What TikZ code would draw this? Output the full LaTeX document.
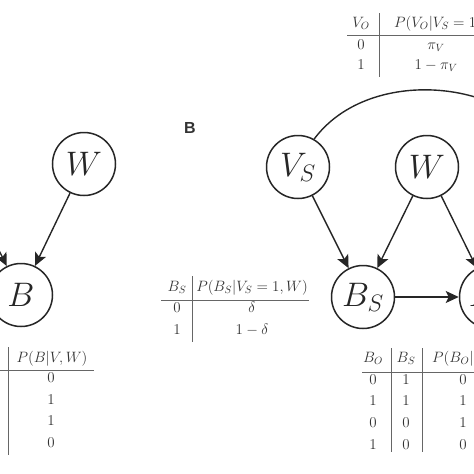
\documentclass[tikz,border=0pt]{standalone}
\usepackage{fix-cm}
\usepackage{fontspec}
\newfontfamily\panelfont{Liberation Sans}
\usetikzlibrary{arrows.meta}

\begin{document}
\begin{tikzpicture}[x=1pt, y=-1pt]
  \tikzset{
    var/.style={circle, draw=black!85, line width=1.5pt, minimum size=63pt, inner sep=0pt,
      text=black!85, font=\fontsize{34}{40}\selectfont},
    dep/.style={-{Stealth[length=13pt, width=12pt, inset=3pt]}, line width=1.4pt, black!85},
    cell/.style={anchor=mid, inner sep=0pt, text=black!80, font=\fontsize{15}{18}\selectfont},
    rule/.style={black!60, line width=0.9pt},
  }
  \useasboundingbox (0,0) rectangle (474,474);
  \clip (0,0) rectangle (474,474);

  % Panel A (cut off at the left)
  \coordinate (V) at (-42,167);
  \node[var] (WA) at (84,164) {$W$};
  \node[var] (BA) at (21,295) {$B$};
  \draw[dep] (V) -- (BA);
  \draw[dep] (WA) -- (BA);

  % table of B
  \node[cell] (pBh) at (52,360) {$P(B|V,W)$};
  \foreach \val [count=\i] in {0,1,1,0}
    \node[cell] (pB-\i) at (51,{358.5+21.7*\i}) {$\val$};
  \draw[rule] (8,347) -- (8,455);
  \draw[rule] (0,370) -- (94,370);

  % Panel B
  \node[font=\panelfont\fontsize{16}{18}\bfseries\selectfont, text=black!80] (lblB) at (190,128) {B};
  \node[var] (VS) at (298,167) {$V_S$};
  \node[var] (WB) at (427,167) {$W$};
  \node[var] (BS) at (363,297) {$B_S$};
  \node[var] (BO) at (491,297) {$B_O$};
  \coordinate (VO) at (556,167);
  \draw[dep] (VS) to[bend left=60] (VO);
  \draw[dep] (VS) -- (BS);
  \draw[dep] (WB) -- (BS);
  \draw[dep] (WB) -- (BO);
  \draw[dep] (BS) -- (BO);

  % table of V_O
  \node[cell] (voh) at (361,25) {$V_O$};
  \node[cell, anchor=mid west] (pvoh) at (394,25) {$P(V_O|V_S=1)$};
  \node[cell] (vo-1) at (361,47) {$0$};
  \node[cell] (vo-2) at (361,67) {$1$};
  \node[cell] (pvo-1) at (436,47) {$\pi_V$};
  \node[cell] (pvo-2) at (436,67) {$1-\pi_V$};
  \draw[rule] (379,13) -- (379,77);
  \draw[rule] (347,35) -- (480,35);

  % table of B_S
  \node[cell] (bsh) at (177,289) {$B_S$};
  \node[cell] (pbsh) at (252,289) {$P(B_S|V_S=1,W)$};
  \node[cell] (bs-1) at (177,310) {$0$};
  \node[cell] (bs-2) at (177,332) {$1$};
  \node[cell] (pbs-1) at (252,310) {$\delta$};
  \node[cell] (pbs-2) at (252,332) {$1-\delta$};
  \draw[rule] (192,276) -- (192,342);
  \draw[rule] (161,300) -- (309,300);

  % table of B_O
  \node[cell] (boh) at (373,360) {$B_O$};
  \node[cell] (bsh2) at (406,360) {$B_S$};
  \node[cell, anchor=mid west] (pboh) at (432,360) {$P(B_O|B_S)$};
  \foreach \bo/\bs/\p [count=\i] in {0/1/0, 1/1/1, 0/0/1, 1/0/0} {
    \node[cell] (bo-\i) at (373,{360.5+21.6*\i}) {$\bo$};
    \node[cell] (bsv-\i) at (406,{360.5+21.6*\i}) {$\bs$};
    \node[cell] (pbo-\i) at (463,{360.5+21.6*\i}) {$\p$};
  }
  \draw[rule] (391,348) -- (391,452);
  \draw[rule] (422,348) -- (422,452);
  \draw[rule] (362,372) -- (480,372);
\end{tikzpicture}
\end{document}
